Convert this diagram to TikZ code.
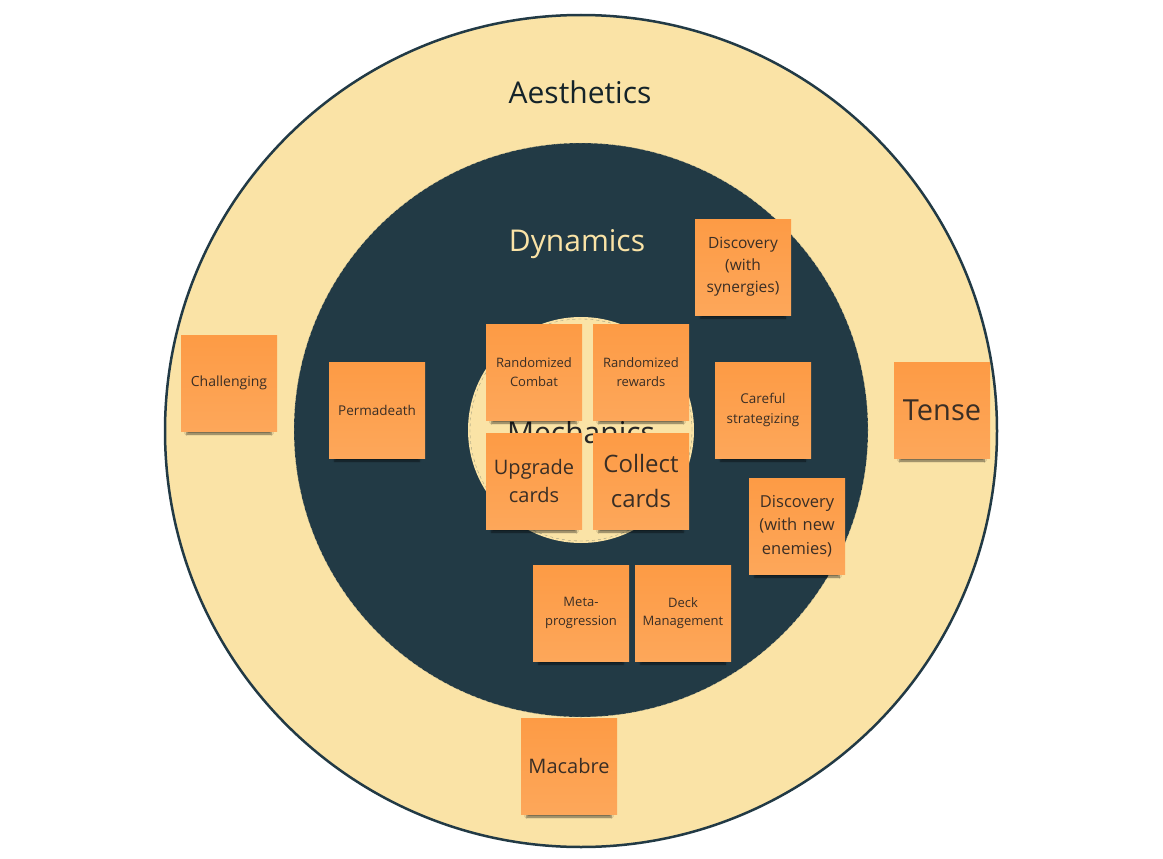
\documentclass[tikz,border=0pt]{standalone}
\usepackage{fontspec}
\setmainfont{Open Sans}
\usepackage{tikz}
\usetikzlibrary{shadows.blur}
\definecolor{ringyellow}{HTML}{FAE3A6}
\definecolor{navy}{HTML}{223A45}
\definecolor{noteorange}{HTML}{FD9B45}
\definecolor{notelight}{HTML}{FDA75A}
\definecolor{notetext}{HTML}{3A2E25}
\newcommand{\fsz}[1]{\fontsize{#1}{\dimexpr #1pt*142/100\relax}\selectfont}
\tikzset{
  sticky/.style={minimum width=96pt, minimum height=96pt, inner sep=2pt,
    text width=92pt, align=center, text=notetext,
    top color=noteorange, bottom color=notelight,
    blur shadow={shadow xshift=0pt, shadow yshift=-10pt, shadow scale=0.88, shadow opacity=55, shadow blur steps=6}},
  ringlabel/.style={font=\fsz{30}}
}

\begin{document}
\begin{tikzpicture}[x=1pt, y=-1pt]
\useasboundingbox[fill=white] (0,0) rectangle (1163,859);
% -- rings --
\draw[line width=2.5pt, navy, fill=ringyellow] (581,431) circle[radius=416pt];
\fill[navy] (581,430) circle[radius=287pt];
\draw[ringyellow!90!navy, line width=0.3pt, dashed] (581,430) circle[radius=287pt];
\fill[ringyellow] (581,430) circle[radius=113pt];
\draw[navy!50!ringyellow, line width=0.3pt, dashed] (581,430) circle[radius=111pt];
% -- ring titles --
\node[ringlabel, text=navy!60!black] (aesthetics) at (580,92) {Aesthetics};
\node[ringlabel, text=ringyellow] (dynamics) at (577,244) {Dynamics};
\node[ringlabel, text=black!85] (mechanics) at (581,432) {Mechanics};
% -- aesthetics notes --
\node[sticky, font=\fsz{14}] (challenging) at (229,383) {Challenging};
\node[sticky, font=\fsz{29}] (tense) at (942,410) {Tense};
\node[sticky, font=\fsz{20}] (macabre) at (569,766) {Macabre};
% -- dynamics notes --
\node[sticky, font=\fsz{13.5}] (permadeath) at (377,410) {Permadeath};
\node[sticky, font=\fsz{15.5}] (synergies) at (743,267) {Discovery\\(with\\synergies)};
\node[sticky, font=\fsz{13.5}] (careful) at (763,410) {Careful\\strategizing};
\node[sticky, font=\fsz{16.5}] (enemies) at (797,526) {Discovery\\(with new\\enemies)};
\node[sticky, font=\fsz{13}] (metaprog) at (581,613) {Meta-\\progression};
\node[sticky, font=\fsz{13}] (deckmgmt) at (683,613) {Deck\\Management};
% -- mechanics notes --
\node[sticky, font=\fsz{13}] (randcombat) at (534,372) {Randomized\\Combat};
\node[sticky, font=\fsz{13}] (randrewards) at (641,372) {Randomized\\rewards};
\node[sticky, font=\fsz{20}] (upgrade) at (534,481) {Upgrade\\cards};
\node[sticky, font=\fsz{24}] (collect) at (641,481) {Collect\\cards};
\end{tikzpicture}
\end{document}
